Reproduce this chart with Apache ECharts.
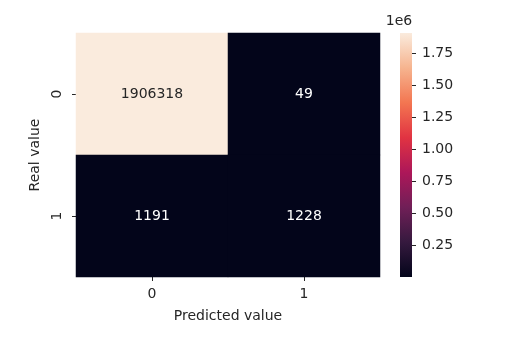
<!DOCTYPE html>
<html>
<head>
<meta charset="utf-8">
<script src="https://cdn.jsdelivr.net/npm/echarts@6/dist/echarts.min.js"></script>
<style>
html,body{margin:0;padding:0;background:#fff;}
#chart{width:515px;height:338px;}
</style>
</head>
<body>
<div id="chart"></div>
<script>
// ---- data ----
const predictedLabels = ['0', '1'];
const realLabels = ['0', '1'];
const row0 = [1906318, 49];     // real value 0
const row1 = [1191, 1228];      // real value 1
const colorbarTicks = [250000, 500000, 750000, 1000000, 1250000, 1500000, 1750000];
const rocketStops = ['#03051a', '#35193e', '#701f57', '#ad1759', '#e13342', '#f37651', '#f6b48f', '#faebdd'];

const rows = [row0, row1];
const allValues = row0.concat(row1);
const vMin = Math.min.apply(null, allValues);
const vMax = Math.max.apply(null, allValues);

const FONT = 'DejaVu Sans';
const TXT = '#262626';

const heatData = [];
rows.forEach(function (row, r) {
  row.forEach(function (v, c) {
    const frac = (v - vMin) / (vMax - vMin);
    heatData.push({
      value: [c, r, v],
      label: { color: frac > 0.6 ? TXT : '#ffffff' }
    });
  });
});

// gradient for the colour bar (bottom = min, top = max)
const gradStops = rocketStops.map(function (c, i) {
  return { offset: 1 - i / (rocketStops.length - 1), color: c };
});

const chart = echarts.init(document.getElementById('chart'), null, { renderer: 'canvas' });
chart.setOption({
  animation: false,
  backgroundColor: '#ffffff',
  textStyle: { fontFamily: FONT },
  grid: [
    { left: 76, top: 33, width: 304, height: 244 },
    { left: 400, top: 33, width: 12, height: 244 }
  ],
  xAxis: [
    {
      type: 'category', gridIndex: 0, data: predictedLabels, position: 'bottom',
      axisLine: { show: false },
      axisTick: { show: true, alignWithLabel: true, length: 4, lineStyle: { color: TXT, width: 1 } },
      axisLabel: { fontSize: 14, color: TXT, margin: 10, fontFamily: FONT },
      splitLine: { show: false },
      name: 'Predicted value', nameLocation: 'middle', nameGap: 32,
      nameTextStyle: { fontSize: 14, color: TXT, fontFamily: FONT }
    },
    {
      type: 'category', gridIndex: 1, data: ['cb'], show: false
    }
  ],
  yAxis: [
    {
      type: 'category', gridIndex: 0, data: realLabels, inverse: true,
      axisLine: { show: false },
      axisTick: { show: true, alignWithLabel: true, length: 4, lineStyle: { color: TXT, width: 1 } },
      axisLabel: { fontSize: 14, color: TXT, margin: 12, rotate: 90, fontFamily: FONT },
      splitLine: { show: false },
      name: 'Real value', nameLocation: 'middle', nameGap: 32,
      nameTextStyle: { fontSize: 14, color: TXT, fontFamily: FONT }
    },
    {
      type: 'value', gridIndex: 1, min: 0, max: vMax, position: 'right',
      axisLine: { show: false },
      axisTick: { show: true, length: 4, customValues: colorbarTicks, lineStyle: { color: TXT, width: 1 } },
      axisLabel: {
        show: true, customValues: colorbarTicks, fontSize: 14, color: TXT, margin: 10, fontFamily: FONT,
        formatter: function (v) { return (v / 1e6).toFixed(2); }
      },
      splitLine: { show: false },
      name: '1e6', nameLocation: 'end', nameGap: 5,
      nameTextStyle: { fontSize: 14, color: TXT, align: 'center', verticalAlign: 'bottom', padding: [0, 26, 0, 0], fontFamily: FONT }
    }
  ],
  visualMap: {
    type: 'continuous',
    show: false,
    min: vMin, max: vMax,
    seriesIndex: 0,
    inRange: { color: rocketStops }
  },
  series: [
    {
      type: 'heatmap',
      xAxisIndex: 0, yAxisIndex: 0,
      data: heatData,
      label: { show: true, fontSize: 14, fontFamily: FONT, formatter: function (p) { return String(p.value[2]); } },
      itemStyle: { borderWidth: 0 },
      emphasis: { disabled: true }
    },
    {
      type: 'bar',
      xAxisIndex: 1, yAxisIndex: 1,
      data: [vMax],
      barWidth: '100%',
      silent: true,
      itemStyle: {
        borderRadius: 0,
        color: { type: 'linear', x: 0, y: 0, x2: 0, y2: 1, colorStops: gradStops }
      }
    }
  ]
});
</script>
</body>
</html>
